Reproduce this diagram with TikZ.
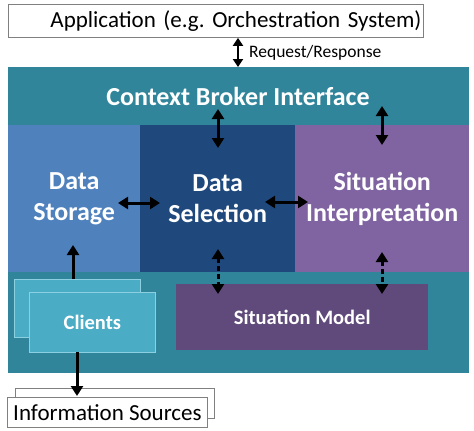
\documentclass[tikz,border=0pt]{standalone}
\usepackage{fontspec}
\setmainfont{Carlito}
\usetikzlibrary{arrows.meta}
\frenchspacing
\definecolor{teal}{HTML}{31859B}
\definecolor{dstore}{HTML}{4F81BD}
\definecolor{dsel}{HTML}{1F497D}
\definecolor{sitint}{HTML}{8064A2}
\definecolor{sitmod}{HTML}{604A7B}
\definecolor{client}{HTML}{4BACC6}
\definecolor{clientedge}{HTML}{8CCFE0}
\definecolor{greyedge}{HTML}{808080}
\tikzset{
  box/.style={rectangle, inner sep=0pt, anchor=north west, align=center},
  whitebox/.style={box, draw=greyedge, line width=0.9pt, fill=white},
  bigtext/.style={font=\fontsize{26}{31}\selectfont\bfseries, text=white},
  midtext/.style={font=\fontsize{20.5}{24}\selectfont\bfseries, text=white},
  clientbox/.style={box, fill=client, draw=clientedge, line width=0.8pt},
  conn/.style={line width=3pt, {Triangle[width=12pt,length=10pt]}-{Triangle[width=12pt,length=10pt]}},
  oneway/.style={line width=3pt, -{Triangle[width=12pt,length=10pt]}},
  dconn/.style={conn, dash pattern=on 5pt off 3pt},
  reqconn/.style={line width=2.2pt, {Triangle[width=10pt,length=8pt]}-{Triangle[width=10pt,length=8pt]}},
}
\begin{document}
\begin{tikzpicture}[x=1pt,y=-1pt]
\useasboundingbox (0,0) rectangle (474,431);
% top application box
\node[whitebox, minimum width=415pt, minimum height=33pt, text width=411pt, align=right,
      font=\fontsize{23}{27}\selectfont] (app) at (8,4) {Application (e.g. Orchestration System)};
% broker background
\node[box, fill=teal, minimum width=461pt, minimum height=306pt] (broker) at (8,67) {};
\node[bigtext] (cbi) at (238,96) {Context Broker Interface};
% three components
\node[box, fill=dstore, minimum width=132pt, minimum height=147pt, bigtext] (storage) at (8,125) {Data\\Storage};
\node[box, fill=dsel, minimum width=155pt, minimum height=147pt, bigtext] (selection) at (140,125) {Data\\Selection};
\node[box, fill=sitint, minimum width=174pt, minimum height=147pt, bigtext] (interp) at (295,125) {Situation\\Interpretation};
% situation model
\node[box, fill=sitmod, minimum width=252pt, minimum height=66pt, midtext] (model) at (176,284) {Situation Model};
% clients
\node[clientbox, minimum width=126pt, minimum height=58pt] (clientsback) at (14,279) {};
\node[clientbox, minimum width=126pt, minimum height=60pt, midtext] (clients) at (29,292) {Clients};
% information sources
\node[whitebox, minimum width=199pt, minimum height=30pt] (infoback) at (15,388) {};
\node[whitebox, minimum width=200pt, minimum height=30pt, font=\fontsize{23}{27}\selectfont] (info) at (7,397) {Information Sources};
% request label
\node[anchor=west, font=\fontsize{17.5}{21}\selectfont, inner sep=0pt] (req) at (249,53) {Request/Response};
% connector end points
\coordinate (cbiA) at (218,109);
\coordinate (selA) at (218,148);
\coordinate (cbiB) at (382,106);
\coordinate (intA) at (382,145);
\coordinate (stoA) at (118,203);
\coordinate (selB) at (160,203);
\coordinate (selC) at (265,202);
\coordinate (intB) at (308,202);
\coordinate (selD) at (218,249);
\coordinate (modA) at (218,294);
\coordinate (intC) at (382,252);
\coordinate (modB) at (382,294);
\coordinate (stoB) at (73,245);
\coordinate (cliA) at (73,279);
\coordinate (cliB) at (77,352);
\coordinate (infA) at (77,396);
% connectors
\draw[reqconn] (app.south -| cbi) -- (broker.north -| cbi);
\draw[conn] (cbiA) -- (selA);
\draw[conn] (cbiB) -- (intA);
\draw[conn] (stoA) -- (selB);
\draw[conn] (selC) -- (intB);
\draw[dconn] (selD) -- (modA);
\draw[dconn] (intC) -- (modB);
\draw[oneway] (cliA) -- (stoB);
\draw[oneway] (cliB) -- (infA);
\end{tikzpicture}
\end{document}
